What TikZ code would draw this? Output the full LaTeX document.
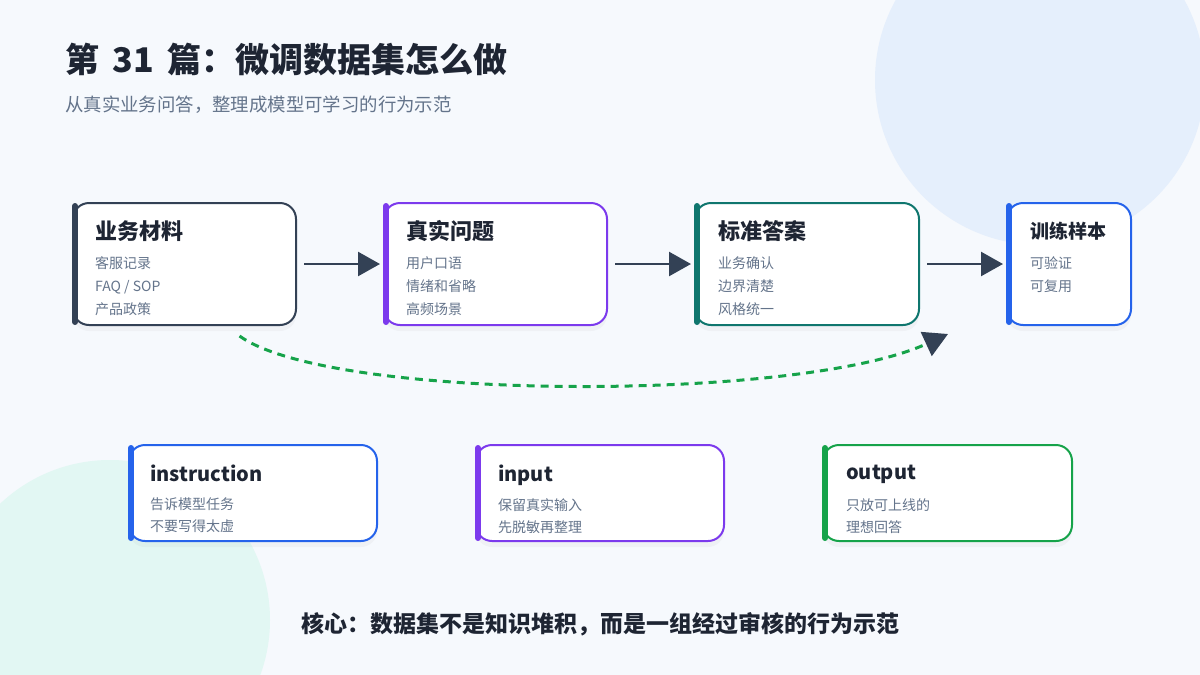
\documentclass[tikz,border=0pt]{standalone}
\usepackage{fontspec}
\setmainfont{Noto Sans CJK SC}
\usetikzlibrary{arrows.meta,positioning,shadows}

\definecolor{bgc}{HTML}{F6F9FD}
\definecolor{blobblue}{HTML}{E5EFFC}
\definecolor{blobmint}{HTML}{E2F7F3}
\definecolor{ink}{HTML}{1E2533}
\definecolor{slate}{HTML}{64748B}
\definecolor{dkc}{HTML}{334155}
\definecolor{purp}{HTML}{7C3AED}
\definecolor{teal}{HTML}{0F766E}
\definecolor{blu}{HTML}{2563EB}
\definecolor{grn}{HTML}{16A34A}

\begin{document}
\begin{tikzpicture}[x=1pt, y=-1pt,
    card/.style={draw=#1, line width=2pt, fill=white, rounded corners=16pt, anchor=north west,
                 inner sep=0pt, drop shadow={shadow xshift=0pt, shadow yshift=-6pt, opacity=0.06}},
    bar/.style={line width=6pt, line cap=round, draw=#1},
    ttl/.style={font=\bfseries\fontsize{22}{26}\selectfont, text=ink, inner sep=0pt},
    itm/.style={font=\fontsize{14}{23}\selectfont, text=slate, align=left, inner sep=0pt},
    flow/.style={-{Triangle[length=22pt, width=24pt]}, line width=2.5pt, draw=dkc},
]
% Background
\useasboundingbox (0,0) rectangle (1200,675);
\fill[bgc] (0,0) rectangle (1200,675);
\begin{scope}
\clip (0,0) rectangle (1200,675);
\fill[blobblue] (1040,80) circle (165pt);
\fill[blobmint] (110,620) circle (160pt);
\end{scope}

% Heading
\node[font=\bfseries\fontsize{34}{40}\selectfont, text=ink, anchor=west, inner sep=0pt] (title) at (65,60) {第\hspace{0.4em}31\hspace{0.4em}篇：微调数据集怎么做};
\node[font=\fontsize{18.4}{22}\selectfont, text=slate, anchor=west, inner sep=0pt] (subtitle) at (65,105) {从真实业务问答，整理成模型可学习的行为示范};

% Top row
\node[card=dkc, minimum width=223pt, minimum height=122pt] (b1) at (72,202) {};
\node[card=purp, minimum width=223pt, minimum height=122pt] (b2) at (383,202) {};
\node[card=teal, minimum width=224pt, minimum height=122pt] (b3) at (694,202) {};
\node[card=blu, minimum width=124pt, minimum height=122pt] (b4) at (1006,202) {};
\draw[bar=dkc] ([xshift=3pt, yshift=-4pt]b1.north west) -- ([xshift=3pt, yshift=4pt]b1.south west);
\draw[bar=purp] ([xshift=3pt, yshift=-4pt]b2.north west) -- ([xshift=3pt, yshift=4pt]b2.south west);
\draw[bar=teal] ([xshift=3pt, yshift=-4pt]b3.north west) -- ([xshift=3pt, yshift=4pt]b3.south west);
\draw[bar=blu] ([xshift=3pt, yshift=-4pt]b4.north west) -- ([xshift=3pt, yshift=4pt]b4.south west);

\node[ttl, below right=18pt and 23pt of b1.north west] (t1) {业务材料};
\node[itm, below right=54pt and 23pt of b1.north west] (l1) {客服记录\\FAQ / SOP\\产品政策};
\node[ttl, below right=18pt and 23pt of b2.north west] (t2) {真实问题};
\node[itm, below right=54pt and 23pt of b2.north west] (l2) {用户口语\\情绪和省略\\高频场景};
\node[ttl, below right=18pt and 24pt of b3.north west] (t3) {标准答案};
\node[itm, below right=54pt and 24pt of b3.north west] (l3) {业务确认\\边界清楚\\风格统一};
\node[ttl, font=\bfseries\fontsize{19}{23}\selectfont, below right=20pt and 24pt of b4.north west] (t4) {训练样本};
\node[itm, below right=54pt and 24pt of b4.north west] (l4) {可验证\\可复用};

% Flow arrows
\draw[flow, shorten <=7pt, shorten >=3pt] (b1.east) -- (b2.west);
\draw[flow, shorten <=7pt, shorten >=3pt] (b2.east) -- (b3.west);
\draw[flow, shorten <=7pt, shorten >=3pt] (b3.east) -- (b4.west);

% Loop back underneath
\coordinate (loopa) at ([xshift=55pt, yshift=-10pt]b1.south);
\coordinate (loopb) at ([xshift=-58pt, yshift=-8pt]b4.south west);
\draw[grn, line width=3pt, dash pattern=on 8pt off 6pt, -{Triangle[length=24pt, width=26pt, color=dkc]}]
  (loopa) .. controls +(92,66) and +(-148,68) .. (loopb);

% Bottom row
\node[card=blu, minimum width=248pt, minimum height=96pt] (b5) at (128,444) {};
\node[card=purp, minimum width=248pt, minimum height=96pt] (b6) at (475,444) {};
\node[card=grn, minimum width=249pt, minimum height=96pt] (b7) at (822,444) {};
\draw[bar=blu] ([xshift=3pt, yshift=-4pt]b5.north west) -- ([xshift=3pt, yshift=4pt]b5.south west);
\draw[bar=purp] ([xshift=3pt, yshift=-4pt]b6.north west) -- ([xshift=3pt, yshift=4pt]b6.south west);
\draw[bar=grn] ([xshift=3pt, yshift=-4pt]b7.north west) -- ([xshift=3pt, yshift=4pt]b7.south west);

\node[ttl, font=\bfseries\fontsize{20}{24}\selectfont, below right=21pt and 22pt of b5.north west] (t5) {instruction};
\node[itm, font=\fontsize{14}{22}\selectfont, below right=54pt and 22pt of b5.north west] (l5) {告诉模型任务\\不要写得太虚};
\node[ttl, font=\bfseries\fontsize{20}{24}\selectfont, below right=21pt and 23pt of b6.north west] (t6) {input};
\node[itm, font=\fontsize{14}{22}\selectfont, below right=54pt and 23pt of b6.north west] (l6) {保留真实输入\\先脱敏再整理};
\node[ttl, font=\bfseries\fontsize{20}{24}\selectfont, below right=21pt and 24pt of b7.north west] (t7) {output};
\node[itm, font=\fontsize{14}{22}\selectfont, below right=54pt and 24pt of b7.north west] (l7) {只放可上线的\\理想回答};

% Takeaway
\node[font=\bfseries\fontsize{23}{27}\selectfont, text=ink, inner sep=0pt] (core) at (600,624) {核心：数据集不是知识堆积，而是一组经过审核的行为示范};
\end{tikzpicture}
\end{document}
